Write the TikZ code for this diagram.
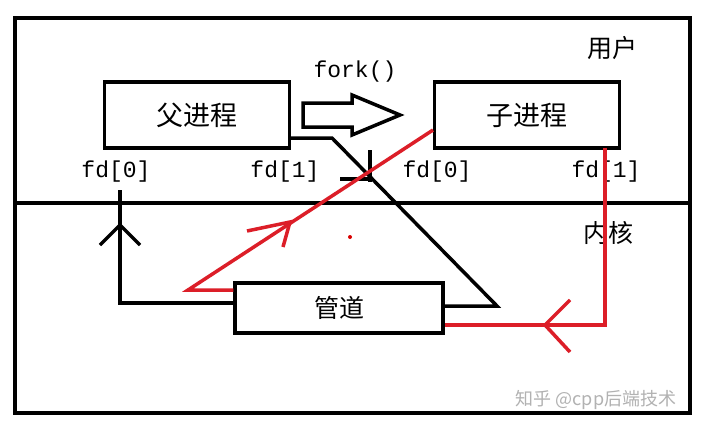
\documentclass[tikz,border=0pt]{standalone}
\usepackage{fontspec}
\newfontfamily\cjk{Noto Sans CJK SC}
\newfontfamily\mono{Liberation Mono}
\begin{document}
\begin{tikzpicture}[x=1pt,y=-1pt,
  bx/.style={draw,line width=3.5pt,minimum width=185pt,minimum height=66pt,font=\cjk\fontsize{27}{27}\selectfont},
  lbl/.style={font=\mono\fontsize{23}{23}\selectfont},
  cj/.style={font=\cjk\fontsize{25}{25}\selectfont},
  bk/.style={line width=3.5pt},
  rd/.style={line width=3.5pt,draw={rgb,255:red,220;green,30;blue,40}}]
\useasboundingbox (0,0) rectangle (711,431);
\fill[white] (0,0) rectangle (711,431);
\draw[bk] (15,18) rectangle (690,413);
\draw[bk] (15,203) coordinate (hl) -- (690,203) coordinate (hr);
\node[bx] (p) at (197,115) {父进程};
\node[bx] (c) at (527,115) {子进程};
\node[bx,minimum width=208pt,minimum height=50pt,font=\cjk\fontsize{25}{25}\selectfont] (pipe) at (339,308) {管道};
\draw[line width=3.5pt] (303,103) -- (352,103) -- (352,95) -- (400,115) -- (352,135) -- (352,127) -- (303,127) -- cycle;
\node[lbl] (fork) at (355,72) {fork()};
\node[cj] (u) at (612,48) {用户};
\node[cj] (k) at (608,233) {内核};
\node[lbl] (a0) at (116,172) {fd[0]};
\node[lbl] (a1) at (285,172) {fd[1]};
\node[lbl] (b0) at (437,172) {fd[0]};
\node[lbl] (b1) at (606,172) {fd[1]};
% black
\draw[bk] (290,138) -- (332,138) -- (497,306) -- (pipe.east |- 0,306);
\draw[bk] (370,150) -- (370,182);
\draw[bk] (340,179) -- (370,179);
\draw[bk] (pipe.west |- 0,303) -- (120,303) -- (120,190);
\draw[bk] (100,245) -- (120,225) -- (140,245);
% red
\draw[rd] (433,130) -- (188,290) -- (pipe.west |- 0,290);
\draw[rd] (247,231) -- (290,222) -- (283,247);
\fill[red!85!black] (350,237) circle (2pt);
\draw[rd] (605,148) -- (605,325) -- (pipe.east |- 0,325);
\draw[rd] (570,300) -- (545,325) -- (570,352);
\node[font=\cjk\fontsize{18}{18}\selectfont,text=gray!60] (w) at (596,400) {知乎 @cpp后端技术};
\end{tikzpicture}
\end{document}
